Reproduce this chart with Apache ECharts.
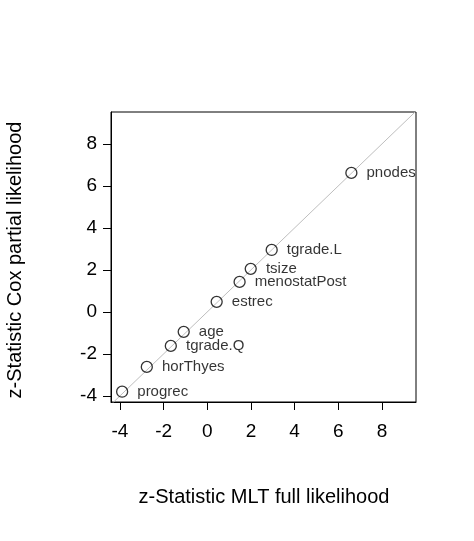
<!DOCTYPE html><html><head><meta charset="utf-8">
<script src="https://cdn.jsdelivr.net/npm/echarts@6/dist/echarts.min.js"></script>
<style>html,body{margin:0;padding:0;background:#fff}#c{width:474px;height:541px}</style></head>
<body><div id="c"></div><script>
const names=["progrec","horThyes","tgrade.Q","age","estrec","menostatPost","tsize","tgrade.L","pnodes"];
const mlt=[-3.9,-2.77,-1.67,-1.08,0.43,1.48,1.99,2.95,6.6];
const cox=[-3.8,-2.62,-1.62,-0.95,0.48,1.43,2.05,2.95,6.62];
const xTicks=[-4,-2,0,2,4,6,8];
const yTicks=[-4,-2,0,2,4,6,8];
const xr=[-4.41,9.56], yr=[-4.29,9.52];
const font="Liberation Sans, Arial, sans-serif";
const ch=echarts.init(document.getElementById('c'));
const ax=(r,ticks)=>({min:r[0],max:r[1],interval:2,
 axisLine:{show:true,onZero:false,lineStyle:{color:'#000'}},
 axisTick:{show:true,length:8,lineStyle:{color:'#000'},customValues:ticks},
 axisLabel:{color:'#000',fontSize:19,fontFamily:font,customValues:ticks,showMinLabel:true,showMaxLabel:true},
 splitLine:{show:false}});
const xa=ax(xr,xTicks); xa.axisLabel.margin=20;
const ya=ax(yr,yTicks); ya.axisLabel.margin=14;
ch.setOption({animation:false,
 grid:{left:111,top:112,width:305,height:290,show:true,borderColor:'#000',borderWidth:1,backgroundColor:'transparent'},
 xAxis:Object.assign(xa,{type:'value',position:'bottom'}),
 yAxis:Object.assign(ya,{type:'value',position:'left'}),
 graphic:[
  {type:'text',x:264,y:497,style:{text:'z-Statistic MLT full likelihood',font:'20px '+font,fill:'#000',align:'center',verticalAlign:'middle'}},
  {type:'text',x:15,y:260,rotation:Math.PI/2,style:{text:'z-Statistic Cox partial likelihood',font:'20px '+font,fill:'#000',align:'center',verticalAlign:'middle'}}
 ],
 series:[
  {type:'line',data:[[Math.min(xr[0],yr[0]),Math.min(xr[0],yr[0])],[Math.max(xr[1],yr[1]),Math.max(xr[1],yr[1])]],symbol:'none',lineStyle:{color:'#bebebe',width:1},clip:true,z:1},
  {type:'scatter',data:mlt.map((v,i)=>[v,cox[i],names[i]]),symbol:'circle',symbolSize:11,
   itemStyle:{color:'transparent',borderColor:'#000',borderWidth:1.3},
   label:{show:true,position:'right',distance:9,formatter:p=>p.data[2],color:'#000',fontSize:15,fontFamily:font},z:3}
 ]});
</script></body></html>
